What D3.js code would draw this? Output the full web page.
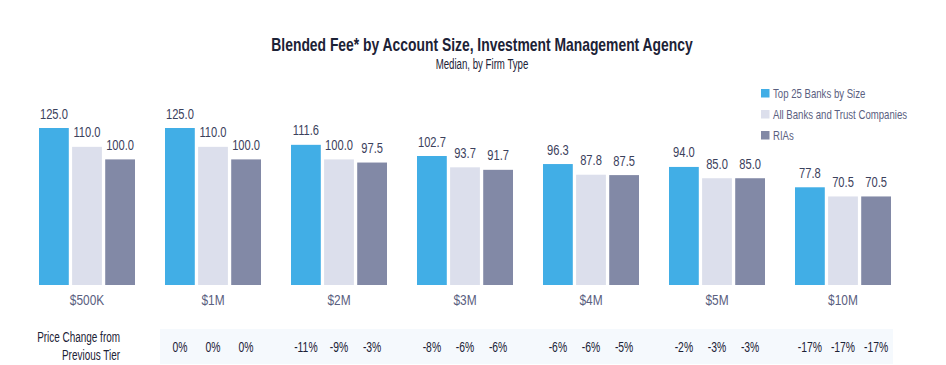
<!DOCTYPE html>
<html><head><meta charset="utf-8">
<script src="https://cdn.jsdelivr.net/npm/d3@7/dist/d3.min.js"></script>
<style>
body{margin:0;background:#fff;}
svg text{font-family:"Liberation Sans",Arial,sans-serif;}
</style></head><body>
<svg id="c" width="946" height="365"></svg>
<script>
const categories = ["$500K","$1M","$2M","$3M","$4M","$5M","$10M"];
const seriesNames = ["Top 25 Banks by Size","All Banks and Trust Companies","RIAs"];
const top25 = [125.0,125.0,111.6,102.7,96.3,94.0,77.8];
const allBanks = [110.0,110.0,100.0,93.7,87.8,85.0,70.5];
const rias = [100.0,100.0,97.5,91.7,87.5,85.0,70.5];
const chgTop25 = ["","0%","-11%","-8%","-6%","-2%","-17%"];
const chgAll = ["","0%","-9%","-6%","-6%","-3%","-17%"];
const chgRias = ["","0%","-3%","-6%","-5%","-3%","-17%"];
const colors = ["#41aee6","#dcdfec","#8289a6"];

const svg = d3.select("#c");
const series = [top25, allBanks, rias];
const changes = [chgTop25, chgAll, chgRias];

function condense(sel, f){
  sel.each(function(){
    const t = this; const L = t.getComputedTextLength();
    if (L>0){ t.setAttribute("textLength", L*f); t.setAttribute("lengthAdjust","spacingAndGlyphs"); }
  });
  return sel;
}

const x0 = d3.scaleBand().domain(categories).range([24, 906]).paddingInner(30/126).paddingOuter(15/126);
const x1 = d3.scaleBand().domain([0,1,2]).range([0, x0.bandwidth()]).paddingInner(0.1).paddingOuter(0);
const y = d3.scaleLinear().domain([0,125]).range([285,128]);

// title
condense(svg.append("text").attr("x",482).attr("y",51).attr("text-anchor","middle")
  .attr("font-size",19).attr("font-weight","bold").attr("fill","#1c2236")
  .text("Blended Fee* by Account Size, Investment Management Agency"), 0.73);
condense(svg.append("text").attr("x",482).attr("y",68.5).attr("text-anchor","middle")
  .attr("font-size",14).attr("fill","#1c2236").text("Median, by Firm Type"), 0.69);

// bars
const g = svg.append("g");
categories.forEach((c,i)=>{
  series.forEach((s,j)=>{
    g.append("rect").attr("x",x0(c)+x1(j)).attr("y",y(s[i])).attr("width",x1.bandwidth())
      .attr("height",y(0)-y(s[i])).attr("fill",colors[j]);
    condense(g.append("text").attr("x",x0(c)+x1(j)+x1.bandwidth()/2).attr("y",y(s[i])-9.5)
      .attr("text-anchor","middle").attr("font-size",15.5).attr("fill","#3b415c")
      .text(s[i].toFixed(1)), 0.72);
  });
});

// x axis labels
const xAxis = d3.axisBottom(x0).tickSize(0).tickPadding(8);
const ax = svg.append("g").attr("transform","translate(0,285)").call(xAxis);
ax.select(".domain").remove();
ax.selectAll("text").attr("font-size",14).attr("fill","#5a6080").attr("dy","0.85em")
  .style("font-family",'"Liberation Sans",Arial,sans-serif');
condense(ax.selectAll("text"), 0.85);

// table band
svg.append("rect").attr("x",160).attr("y",329).attr("width",733).attr("height",35).attr("fill","#f5f9fd");
condense(svg.append("text").attr("x",120).attr("y",342).attr("text-anchor","end").attr("font-size",14).attr("fill","#1c2236").text("Price Change from"),0.71);
condense(svg.append("text").attr("x",120).attr("y",360).attr("text-anchor","end").attr("font-size",14).attr("fill","#1c2236").text("Previous Tier"),0.71);
categories.forEach((c,i)=>{
  changes.forEach((ch,j)=>{
    if(!ch[i]) return;
    condense(svg.append("text").attr("x",x0(c)+x1(j)+x1.bandwidth()/2).attr("y",352)
      .attr("text-anchor","middle").attr("font-size",14).attr("fill","#1c2236").text(ch[i]),0.74);
  });
});

// legend
const lg = svg.append("g").attr("transform","translate(761,89)");
seriesNames.forEach((n,j)=>{
  lg.append("rect").attr("x",0).attr("y",j*21).attr("width",8.5).attr("height",8.5).attr("fill",colors[j]);
  lg.append("g").attr("transform",`translate(12,${j*21+9}) scale(0.74,1)`)
    .append("text").attr("x",0).attr("y",0).attr("font-size",13).attr("fill","#5a6080").text(n);
});
</script></body></html>
